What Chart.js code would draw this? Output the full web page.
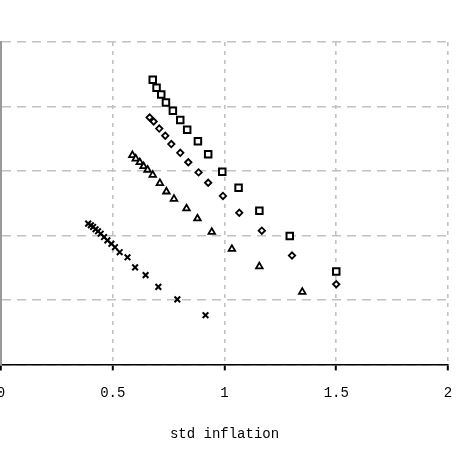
<!DOCTYPE html>
<html>
<head>
<meta charset="utf-8">
<script src="https://cdn.jsdelivr.net/npm/chart.js@4.4.0/dist/chart.umd.min.js"></script>
<style>
html,body{margin:0;padding:0;background:#fff;}
#wrap{width:474px;height:474px;}
</style>
</head>
<body>
<div id="wrap"><canvas id="c" width="474" height="474"></canvas></div>
<script>
const xTicks = [0, 0.5, 1, 1.5, 2];

const squareX = [0.679,0.696,0.717,0.738,0.769,0.802,0.833,0.881,0.927,0.990,1.063,1.156,1.292,1.5];
const squareY = [4.415,4.29,4.185,4.06,3.934,3.789,3.641,3.459,3.26,2.989,2.739,2.382,1.99,1.442];

const diamondX = [0.665,0.683,0.708,0.735,0.762,0.802,0.838,0.884,0.927,0.993,1.066,1.167,1.302,1.5];
const diamondY = [3.83,3.767,3.657,3.547,3.417,3.281,3.135,2.978,2.817,2.613,2.351,2.074,1.688,1.243];

const triangleX = [0.588,0.603,0.621,0.638,0.656,0.679,0.711,0.740,0.774,0.830,0.879,0.943,1.033,1.156,1.348];
const triangleY = [3.245,3.19,3.135,3.072,3.017,2.939,2.81,2.68,2.566,2.418,2.262,2.053,1.79,1.52,1.124];

const crossX = [0.390,0.402,0.412,0.423,0.434,0.446,0.461,0.476,0.494,0.510,0.531,0.566,0.600,0.647,0.704,0.789,0.915];
const crossY = [2.183,2.158,2.132,2.096,2.064,2.027,1.975,1.923,1.87,1.818,1.74,1.661,1.505,1.384,1.202,1.008,0.763];

const xTitle = 'std inflation';

function pts(xs, ys){ return xs.map((x,i)=>({x:x, y:ys[i]})); }

const ds = [
  {label:'s1', data:pts(squareX,squareY), pointStyle:'rect', pointRadius:4.6, borderWidth:2},
  {label:'s2', data:pts(diamondX,diamondY), pointStyle:'rectRot', pointRadius:3.2, borderWidth:1.8},
  {label:'s3', data:pts(triangleX,triangleY), pointStyle:'triangle', pointRadius:3.8, borderWidth:1.8},
  {label:'s4', data:pts(crossX,crossY), pointStyle:'crossRot', pointRadius:4, borderWidth:2}
].map(d=>Object.assign(d,{borderColor:'#000', backgroundColor:'#fff', pointHoverRadius:d.pointRadius, showLine:false}));

const tickFont = {family:'Liberation Mono', size:14};

new Chart(document.getElementById('c'), {
  type:'scatter',
  data:{datasets:ds},
  options:{
    responsive:false,
    animation:false,
    devicePixelRatio:1,
    layout:{autoPadding:false, padding:{left:1, right:26, top:42, bottom:31}},
    plugins:{legend:{display:false}, tooltip:{enabled:false}},
    scales:{
      x:{
        type:'linear', min:0, max:2,
        afterBuildTicks:(s)=>{ s.ticks = xTicks.map(v=>({value:v})); },
        afterFit:(s)=>{ s.paddingLeft=0; s.paddingRight=0; },
        ticks:{color:'#000', padding:14, font:tickFont, maxRotation:0,
               callback:(v)=>String(v)},
        grid:{color:'#c2c2c2', lineWidth:1.6, drawTicks:true, tickLength:6, tickColor:'#000', tickBorderDash:[], tickWidth:2},
        border:{display:true, color:'#000', width:1.5, dash:[4,5]},
        title:{display:true, text:xTitle, color:'#000', font:tickFont, padding:{top:11, bottom:0}}
      },
      y:{
        type:'linear', min:0, max:5,
        ticks:{display:false, stepSize:1},
        afterFit:(s)=>{ s.width=0; },
        grid:{color:'#c2c2c2', lineWidth:1.6, drawTicks:false},
        border:{display:true, color:'#999', width:2, dash:[9,6]}
      }
    }
  }
});
</script>
</body>
</html>
